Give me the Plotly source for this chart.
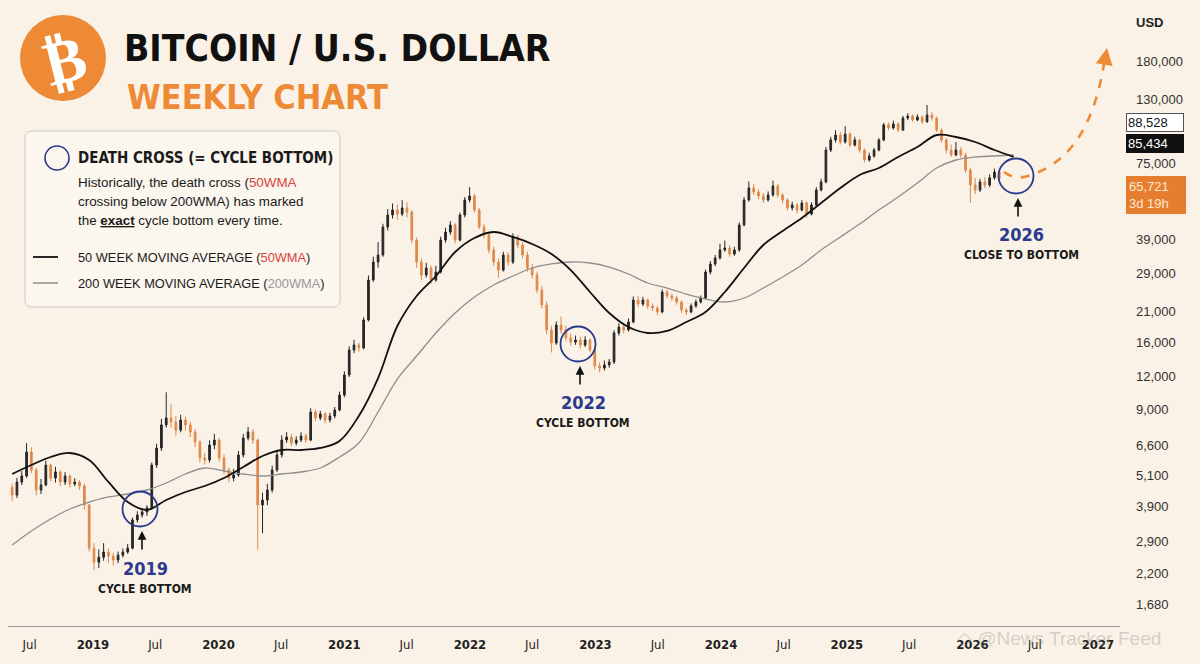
import pandas as pd
import plotly.graph_objects as go

# weekly chart, one candle per two weeks
first_open = 4600
closes = [4310, 4820, 5080, 6245, 5350, 4500, 4700, 5580, 4990, 5260,
          4820, 5080, 4740, 4820, 4660, 3960, 2730, 2420, 2525, 2640,
          2550, 2465, 2570, 2640, 2730, 3480, 3630, 3725, 3860, 5580,
          6460, 7880, 8370, 8080, 7540, 8220, 7880, 7420, 6800, 5930,
          5830, 6630, 6920, 5930, 5350, 4990, 5120, 6085, 7040, 7420,
          6920, 3960, 4130, 4500, 5350, 6085, 6920, 7100, 6740, 6920,
          7160, 6920, 8810, 8370, 8660, 8220, 8510, 8960, 10190, 12110,
          15020, 15680, 15280, 19440, 27430, 32010, 34010, 43270, 47990, 50100,
          48400, 50970, 49250, 38690, 32010, 28620, 30400, 27430, 29370, 38690,
          41450, 44030, 38690, 47990, 54600, 56510, 50100, 43270, 40390, 35500,
          32010, 29880, 34010, 32010, 39700, 37060, 34010, 30400, 28620, 25170,
          22120, 17840, 15950, 18620, 17840, 16650, 16080, 16360, 15680, 16360,
          15020, 13100, 12860, 13210, 13540, 17390, 18300, 17840, 19110, 23090,
          22310, 23090, 21930, 21560, 20830, 24740, 23900, 23500, 22700, 21190,
          20830, 21930, 22700, 23500, 29370, 31470, 33140, 35500, 36120, 34300,
          35500, 44030, 54600, 60540, 58490, 56510, 54600, 57000, 61590, 57000,
          54600, 50970, 52300, 50100, 53210, 48400, 52300, 59500, 63740, 83900,
          91500, 95500, 89900, 96300, 87600, 91500, 83900, 77000, 79700, 83900,
          91500, 104200, 101500, 105000, 99700, 110500, 112400, 108700, 111500, 107000,
          113400, 110500, 99700, 91500, 83900, 80400, 83900, 80400, 70700, 62120,
          59500, 63740, 62120, 66100, 69500, 65721]
highs = [4750, 5000, 5300, 6740, 6500, 5450, 4950, 5800, 5650, 5500,
         5350, 5250, 5150, 4980, 4900, 4750, 4000, 2850, 2700, 2850,
         2720, 2620, 2650, 2720, 2830, 3550, 3750, 3850, 3950, 5700,
         6700, 8300, 10440, 9400, 8500, 8600, 8450, 8100, 7600, 6950,
         6200, 6900, 7300, 7050, 6100, 5450, 5400, 6300, 7300, 7750,
         7600, 7000, 4400, 4750, 5550, 6300, 7200, 7400, 7300, 7150,
         7400, 7300, 9100, 9000, 8900, 8800, 8750, 9200, 10500, 12500,
         15500, 16400, 16000, 19900, 28500, 33500, 38000, 44500, 50500, 53000,
         52500, 54500, 53500, 50000, 39500, 33000, 31800, 31000, 31000, 39800,
         43000, 45500, 44800, 49000, 56000, 61000, 57500, 51000, 44500, 41500,
         36500, 33000, 35000, 34800, 41000, 40500, 38000, 35000, 31500, 29500,
         26000, 22800, 18500, 19200, 20000, 18500, 17300, 17000, 16800, 16900,
         16600, 15300, 13500, 13700, 13900, 17800, 18900, 18700, 19700, 23800,
         23900, 23700, 23400, 22400, 22000, 25300, 25200, 24400, 23900, 23000,
         21600, 22400, 23200, 24000, 30000, 32300, 34000, 37500, 38500, 37000,
         36500, 45000, 56000, 64000, 62500, 60000, 58000, 58800, 64500, 62500,
         58000, 55500, 53800, 53200, 54500, 54000, 53500, 61000, 65500, 86000,
         94000, 99500, 98000, 103000, 97500, 94000, 92500, 85000, 82000, 85500,
         93000, 106000, 106500, 108000, 106500, 112500, 115000, 114000, 114000, 113000,
         123700, 116000, 112000, 101000, 93000, 88000, 90000, 86000, 82000, 72000,
         66000, 65500, 66500, 68000, 71500, 70500]
lows = [4100, 4200, 4700, 5000, 5200, 4300, 4350, 4650, 4850, 4800,
        4650, 4700, 4600, 4650, 4500, 3800, 2650, 2260, 2300, 2450,
        2400, 2350, 2400, 2520, 2600, 2700, 3400, 3550, 3600, 3800,
        5450, 6300, 7700, 7700, 7200, 7400, 7500, 7100, 6500, 5700,
        5600, 5700, 6400, 5750, 5150, 4800, 4850, 5050, 5950, 6900,
        6700, 2690, 3100, 3950, 4400, 5250, 5950, 6750, 6550, 6600,
        6800, 6750, 6850, 8150, 8200, 8000, 8050, 8350, 8850, 10000,
        11900, 14600, 14800, 15100, 19200, 27000, 30500, 33500, 42000, 46500,
        46000, 47500, 47000, 37500, 30500, 27400, 28000, 26500, 27000, 29000,
        37800, 40500, 37500, 38200, 47000, 53500, 49000, 42500, 39200, 34500,
        31000, 28000, 29500, 31000, 31500, 36000, 33000, 29500, 27800, 24500,
        21500, 17200, 14700, 15700, 17300, 16200, 15600, 15700, 15200, 15400,
        14700, 12700, 12400, 12600, 12900, 13300, 17000, 17300, 17600, 18900,
        21800, 21900, 21400, 21000, 20300, 20600, 23400, 22900, 22200, 20700,
        20300, 20600, 21600, 22400, 23200, 28800, 30900, 32700, 35000, 33500,
        33800, 35000, 43500, 53800, 57000, 55000, 53200, 53800, 56200, 55800,
        53000, 49800, 49900, 48600, 49500, 46800, 47800, 51800, 58800, 63000,
        82500, 89500, 88000, 88800, 86000, 86500, 82000, 75500, 76000, 78500,
        83000, 90500, 99500, 100000, 98000, 98800, 108500, 107000, 107500, 105000,
        106000, 108000, 98000, 89500, 81500, 79000, 79500, 78500, 69000, 53200,
        57500, 58500, 60500, 61000, 65000, 64500]

# moving averages, one point per 8 weeks
ma50 = [5167, 5582, 5980, 6190, 5828, 4824, 4060, 3790, 4130, 4425,
        4660, 4993, 5488, 6034, 6352, 6352, 6463, 6864, 8510, 11800,
        18460, 23900, 28390, 34900, 39370, 41450, 39720, 37390, 34300, 29880,
        24740, 20640, 18300, 17380, 17690, 19100, 20830, 24740, 30410, 37070,
        41810, 46760, 53200, 60530, 67700, 71900, 79060, 86120, 95500, 93870,
        89930, 83950, 79060]
ma200 = [2805, 3164, 3508, 3823, 4060, 4240, 4350, 4502, 4782, 5167,
         5440, 5302, 5167, 5078, 5167, 5256, 5440, 5980, 6745, 8810,
         11700, 14260, 17380, 20640, 23690, 26280, 28390, 30410, 31480, 32020,
         31750, 30670, 28880, 26730, 25600, 24310, 23290, 22700, 23490, 25600,
         28140, 31210, 35500, 39720, 44400, 50100, 56020, 63180, 71900, 77020,
         79060, 79710, 80400]

price_ticks = [1680, 2200, 2900, 3900, 5100, 6600, 9000, 12000, 16000,
               21000, 29000, 39000, 75000, 130000, 180000]
date_ticks = ['2018-07-01', '2019-01-01', '2019-07-01', '2020-01-01', '2020-07-01',
              '2021-01-01', '2021-07-01', '2022-01-01', '2022-07-01', '2023-01-01',
              '2023-07-01', '2024-01-01', '2024-07-01', '2025-01-01', '2025-07-01',
              '2026-01-01', '2026-07-01', '2027-01-01']
date_labels = ['Jul', '<b>2019</b>', 'Jul', '<b>2020</b>', 'Jul', '<b>2021</b>', 'Jul',
               '<b>2022</b>', 'Jul', '<b>2023</b>', 'Jul', '<b>2024</b>', 'Jul',
               '<b>2025</b>', 'Jul', '<b>2026</b>', 'Jul', '<b>2027</b>']

dates = pd.date_range('2018-05-11', periods=len(closes), freq='14D')
ma_dates = pd.date_range('2018-05-11', periods=len(ma50), freq='56D')
opens = [first_open] + closes[:-1]

BG = '#FAF2E6'
ORANGE = '#EE8A35'
NAVY = '#2B3A8C'
NARROW = 'Liberation Sans Narrow, DejaVu Sans Condensed, Arial Narrow, sans-serif'
SANS = 'Liberation Sans, Arial, sans-serif'

# the page puts the figure 8px in from the top-left corner
OFF = 8
W, H = 1200, 664
L, R, T, B = 0, 88, 0, 46
PW, PH = W - L - R, H - T - B


def px(x):
    return (x - OFF - L) / PW


def py(y):
    return (OFF + T + PH - y) / PH


fig = go.Figure()
fig.add_trace(go.Candlestick(
    x=dates, open=opens, high=highs, low=lows, close=closes,
    increasing=dict(line=dict(color='#262626', width=1), fillcolor='#262626'),
    decreasing=dict(line=dict(color='#E0894A', width=1), fillcolor='#E0894A'),
    whiskerwidth=0, hoverinfo='skip', showlegend=False
))
fig.add_trace(go.Scatter(x=ma_dates, y=ma200, mode='lines', hoverinfo='skip',
                         line=dict(color='#8E8E8E', width=1.3, shape='spline'), showlegend=False))
fig.add_trace(go.Scatter(x=ma_dates, y=ma50, mode='lines', hoverinfo='skip',
                         line=dict(color='#111111', width=1.8, shape='spline'), showlegend=False))

shapes = []
annotations = []


def text(x, y, s, size, color='#1a1a1a', family=SANS, anchor='left', **kw):
    annotations.append(dict(x=px(x), y=py(y), xref='paper', yref='paper', text=s,
                            showarrow=False, xanchor=anchor, yanchor='middle',
                            font=dict(size=size, color=color, family=family), **kw))


def circle(cx, cy, r, **kw):
    shapes.append(dict(type='circle', xref='paper', yref='paper',
                       x0=px(cx - r), x1=px(cx + r), y0=py(cy + r), y1=py(cy - r), **kw))


def arrow_up(x, y, length):
    annotations.append(dict(x=px(x), y=py(y), xref='paper', yref='paper', text='',
                            showarrow=True, ax=0, ay=length, arrowhead=2, arrowsize=1.1,
                            arrowwidth=1.6, arrowcolor='#111111'))


# logo and title
circle(63, 58, 43, fillcolor=ORANGE, line=dict(width=0))
text(64, 60, '<b>₿</b>', 62, color='white', family='DejaVu Sans', anchor='center', textangle=-14)
text(122, 48, '<b>BITCOIN / U.S. DOLLAR</b>', 37, color='#111111', family=NARROW)
text(125, 97, '<b>WEEKLY CHART</b>', 34, color=ORANGE, family=NARROW)

# info box
x0, y0, x1, y1, r = 25, 131, 340, 307, 7
pts = [(x0 + r, y0), (x1 - r, y0), (x1, y0), (x1, y0 + r), (x1, y1 - r), (x1, y1),
       (x1 - r, y1), (x0 + r, y1), (x0, y1), (x0, y1 - r), (x0, y0 + r), (x0, y0), (x0 + r, y0)]
p = [f'{px(a):.5f},{py(b):.5f}' for a, b in pts]
path = (f'M{p[0]} L{p[1]} Q{p[2]} {p[3]} L{p[4]} Q{p[5]} {p[6]} L{p[7]} '
        f'Q{p[8]} {p[9]} L{p[10]} Q{p[11]} {p[12]} Z')
shapes.append(dict(type='path', xref='paper', yref='paper', path=path, layer='below',
                   fillcolor='#FBF6EE', line=dict(color='#CFCBC4', width=1)))
circle(57, 158, 12, line=dict(color=NAVY, width=1.6))
text(76, 158, '<b>DEATH CROSS (= CYCLE BOTTOM)</b>', 15, family=NARROW)
text(76, 182, 'Historically, the death cross (<span style="color:#D9443A">50WMA</span>', 13.4)
text(76, 201, 'crossing below 200WMA) has marked', 13.4)
text(76, 220, 'the <b><u>exact</u></b> cycle bottom every time.', 13.4)
shapes.append(dict(type='line', xref='paper', yref='paper', x0=px(33), x1=px(58),
                   y0=py(257), y1=py(257), line=dict(color='#111111', width=1.8)))
shapes.append(dict(type='line', xref='paper', yref='paper', x0=px(33), x1=px(58),
                   y0=py(283), y1=py(283), line=dict(color='#8E8E8E', width=1.5)))
text(76, 257, '50 WEEK MOVING AVERAGE (<span style="color:#D9443A">50WMA</span>)', 12.8)
text(76, 283, '200 WEEK MOVING AVERAGE (<span style="color:#9A9A9A">200WMA</span>)', 12.8)

# cycle bottom markers
for cx, cy, label, sub, ly in [(140, 509, '2019', 'CYCLE BOTTOM', 568),
                               (578, 344, '2022', 'CYCLE BOTTOM', 402),
                               (1016, 176, '2026', 'CLOSE TO BOTTOM', 234)]:
    circle(cx, cy, 17.5, line=dict(color=NAVY, width=1.8))
    arrow_up(cx + 2, cy + 22, 20)
    text(cx + 5, ly, f'<b>{label}</b>', 18, color=NAVY, family=NARROW, anchor='center')
    text(cx + 5, ly + 21, f'<b>{sub}</b>', 12, color='#1a1a1a', family=NARROW, anchor='center')

# projected path
q = lambda a, b: f'{px(a):.5f},{py(b):.5f}'
proj = f'M{q(1004, 172)} Q{q(1016, 181)} {q(1031, 175)} C{q(1065, 163)} {q(1092, 135)} {q(1104, 64)}'
shapes.append(dict(type='path', xref='paper', yref='paper', path=proj,
                   line=dict(color=ORANGE, width=2.6, dash='dash')))
annotations.append(dict(x=px(1107), y=py(48), xref='paper', yref='paper', text='',
                        showarrow=True, ax=-3, ay=18, arrowhead=2, arrowsize=1.3,
                        arrowwidth=2.6, arrowcolor=ORANGE))

# price tags on the axis
text(1134, 23, '<b>USD</b>', 13, color='#222222')
text(1126, 122, '88,528', 13, color='#111111', bgcolor='white', bordercolor='#555555',
     borderwidth=1, borderpad=1, width=54, align='left')
text(1126, 143, '85,434', 13, color='white', bgcolor='#111111', bordercolor='#111111',
     borderwidth=1, borderpad=1, width=54, align='left')
text(1126, 195, '65,721<br>3d 19h', 13, color='#FFE8D2', bgcolor='#E67E30',
     bordercolor='#E67E30', borderwidth=1, borderpad=2, width=54, align='left')

text(955, 638, '◇ @News Tracker Feed', 19, color='rgba(150,150,150,0.4)', family=SANS)

fig.update_layout(
    width=W, height=H,
    margin=dict(l=L, r=R, t=T, b=B, pad=0),
    paper_bgcolor=BG, plot_bgcolor=BG,
    showlegend=False, boxgap=0.5,
    shapes=shapes, annotations=annotations,
    xaxis=dict(type='date', range=['2018-04-29', '2027-03-06'], rangeslider=dict(visible=False),
               showgrid=False, zeroline=False, showline=True, linecolor='#9A9A9A', linewidth=1.2,
               ticks='', tickvals=date_ticks, ticktext=date_labels, ticklabelstandoff=6,
               tickfont=dict(family=NARROW, size=13, color='#222222')),
    yaxis=dict(type='log', range=[3.1452, 5.4546], side='right', showgrid=False, zeroline=False,
               showline=False, ticks='', tickvals=price_ticks,
               ticktext=[f'{v:,}' for v in price_ticks], ticklabelstandoff=15,
               tickfont=dict(family=SANS, size=13, color='#333333')),
)

# page background matches the chart so the 8px page margin is not white
fig.write_html('out.html', post_script=f"document.body.style.background='{BG}';")
